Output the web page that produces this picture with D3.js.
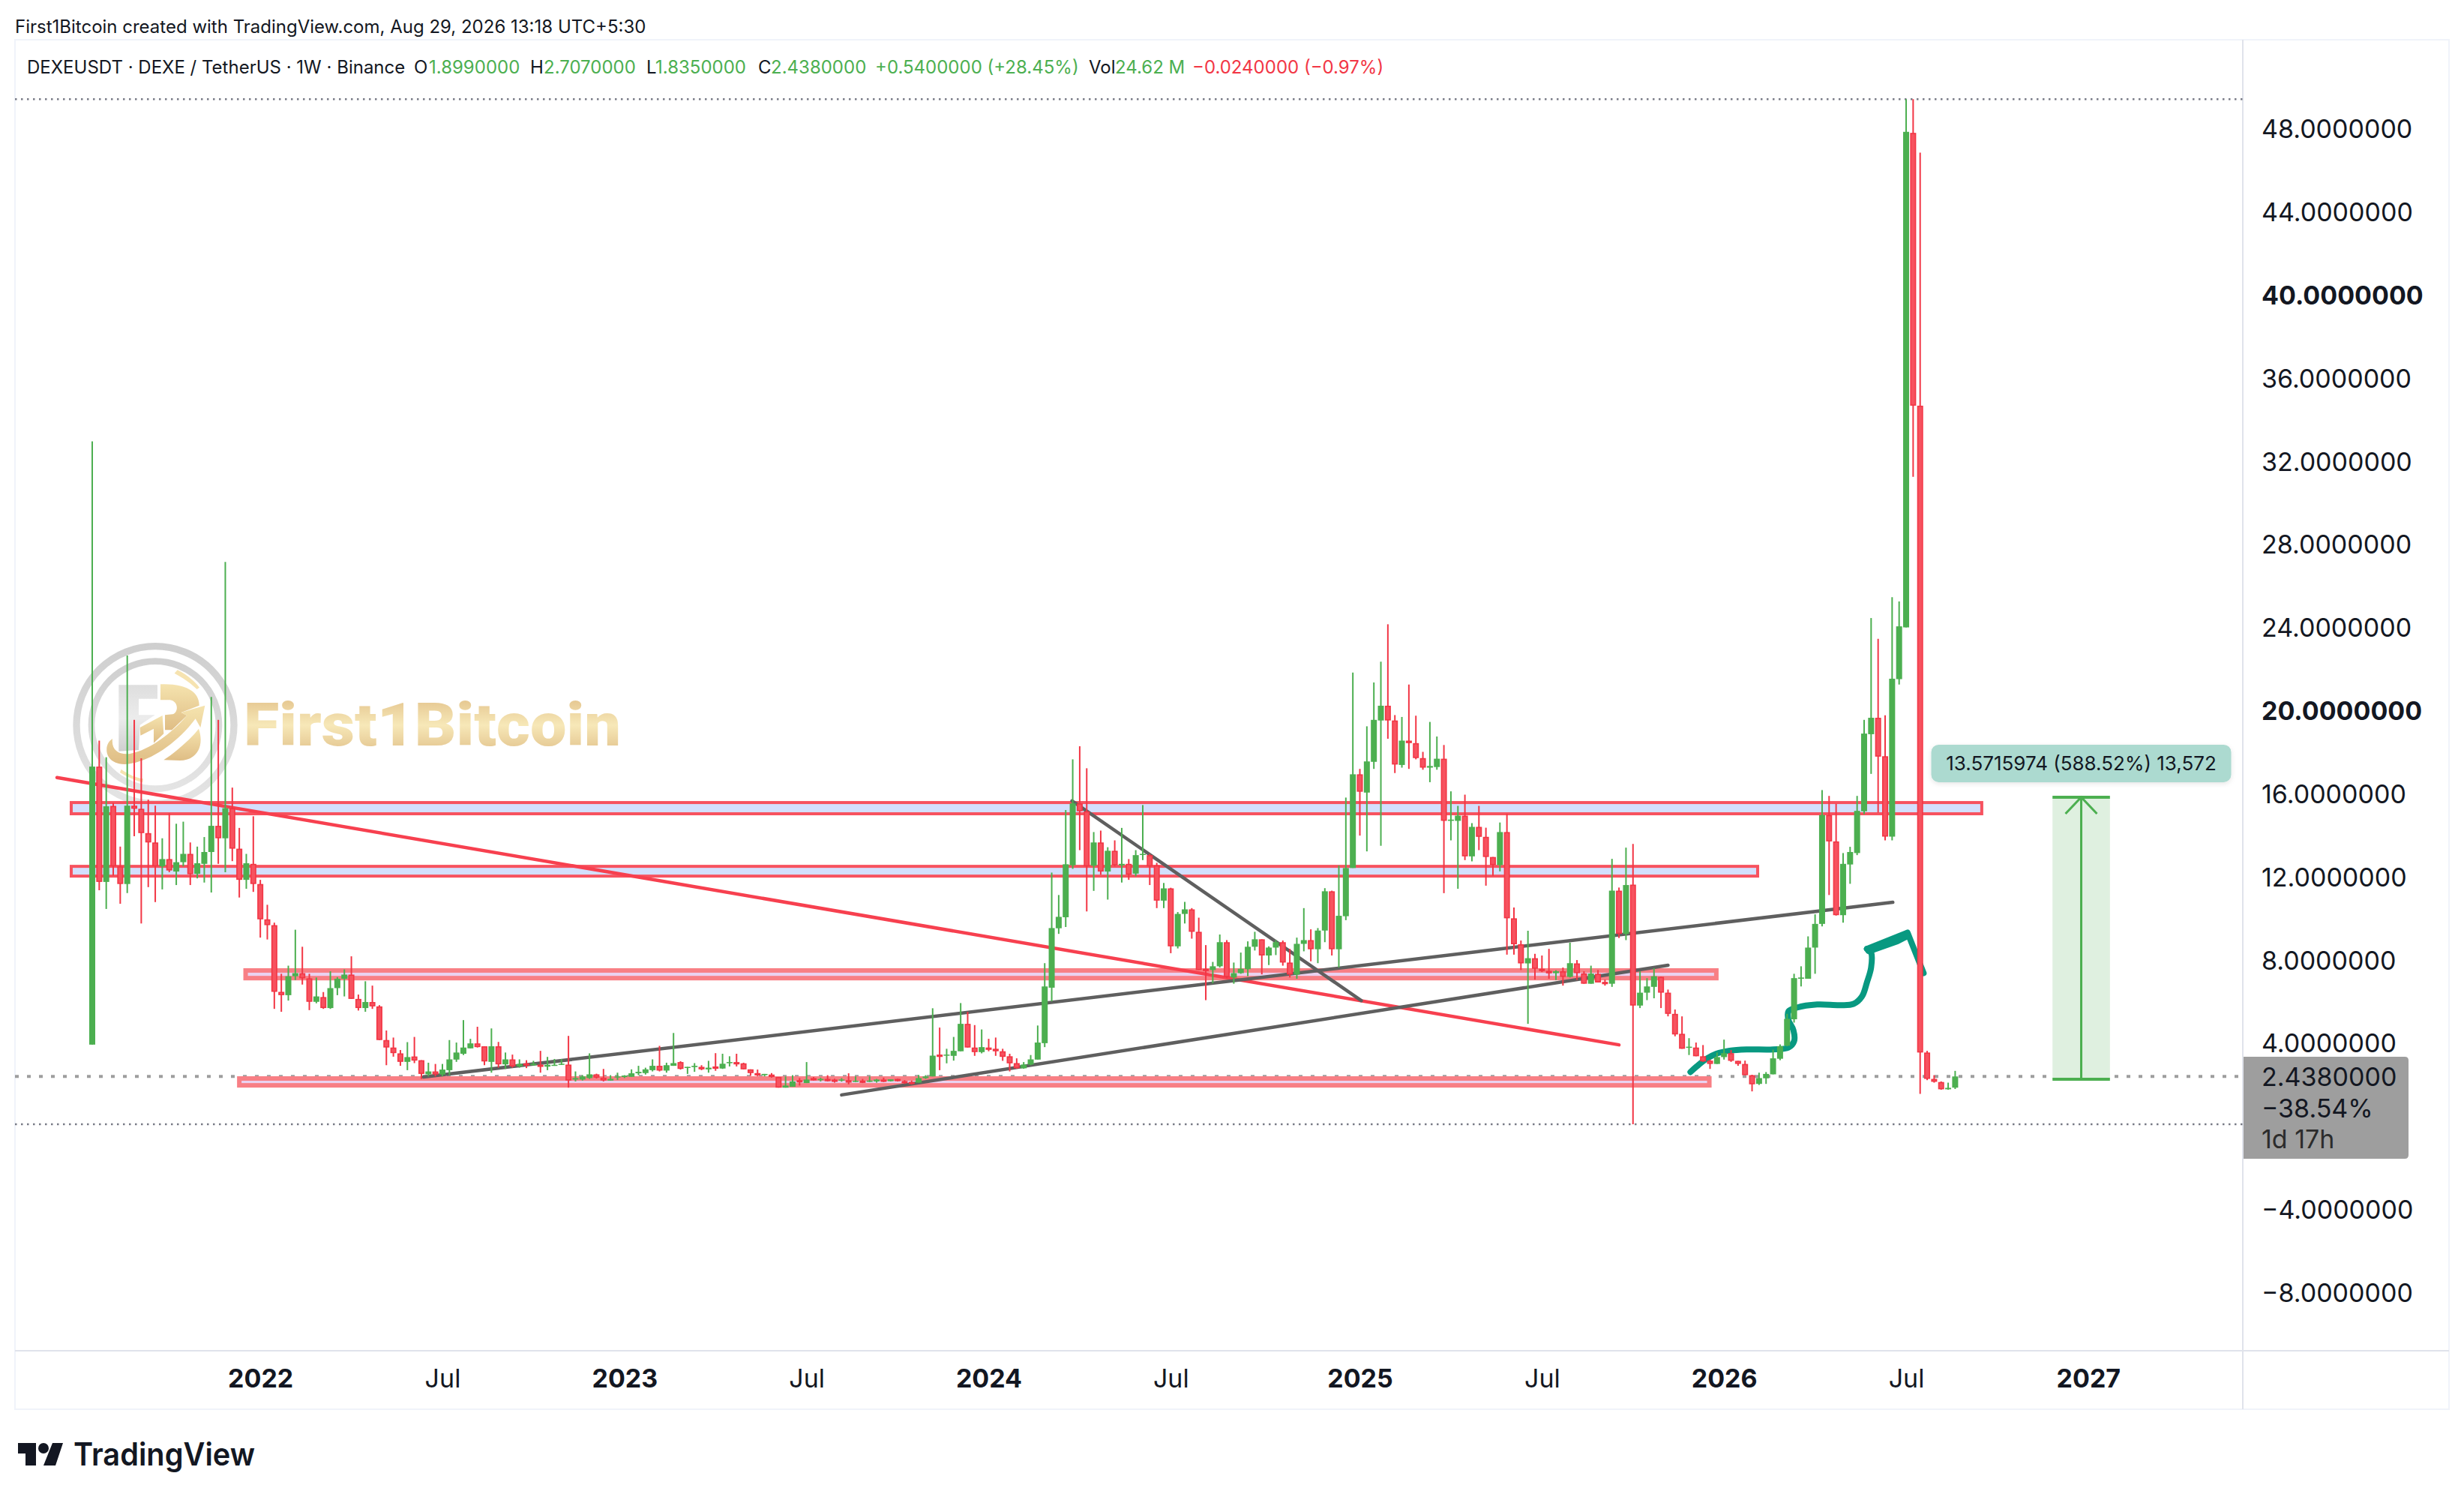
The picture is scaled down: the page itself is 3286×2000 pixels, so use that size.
<!DOCTYPE html>
<html>
<head>
<meta charset="utf-8">
<script src="https://cdn.jsdelivr.net/npm/d3@7"></script>
<style>
    html, body {margin: 0; padding: 0; background: #fff;}
    text {font-family: Inter, "Noto Sans", sans-serif;}
</style>
</head>
<body>
<div id="chart"></div>
<script>
// weekly candles (10 bars per row)
const opens = [
3.97,17.35,11.8,15.46,12.55,11.7,15.47,15.32,14.15,13.7,
12.55,12.9,12.3,12.75,13.15,12.19,12.67,13.24,14.5,13.9,
15.35,13.4,11.9,12.67,11.7,10.0,9.72,6.51,6.35,7.26,
7.41,7.16,6.03,6.26,5.73,6.69,7.14,7.34,6.17,5.73,
6.02,5.81,4.19,3.83,3.55,3.14,3.4,3.22,2.54,2.68,
2.53,2.74,3.25,3.53,3.79,4.03,3.89,3.14,3.89,3.02,
3.26,2.92,3.07,2.98,3.01,2.91,2.97,3.0,3.01,2.29,
2.29,2.36,2.54,2.38,2.24,2.4,2.41,2.42,2.59,2.6,
2.74,2.95,2.72,2.95,3.13,2.86,2.89,2.9,2.78,2.92,
2.82,3.08,3.13,3.07,2.78,2.6,2.5,2.53,2.41,1.9,
1.94,2.26,2.12,2.36,2.26,2.32,2.29,2.24,2.26,2.18,
2.24,2.18,2.2,2.29,2.21,2.32,2.22,2.18,2.14,2.36,
2.44,3.49,3.44,3.43,3.65,4.97,3.83,3.61,3.83,3.77,
3.65,3.41,3.08,2.83,3.01,3.25,4.04,6.71,9.57,10.1,
12.6,15.58,15.2,12.58,13.7,12.3,13.3,12.6,12.67,12.2,
13.1,13.09,12.6,10.9,11.49,8.7,10.26,10.48,9.4,7.62,
7.56,7.74,8.9,7.2,7.41,7.6,8.68,9.04,8.26,8.64,
8.9,7.92,7.34,8.82,9.0,8.56,9.46,11.35,8.56,10.15,
12.47,16.98,16.1,17.58,19.57,20.28,19.57,17.43,18.6,18.48,
17.76,17.3,17.33,17.73,14.74,14.74,14.99,13.03,14.45,13.97,
13.0,12.61,14.2,10.05,8.8,7.88,8.13,7.62,7.52,7.41,
7.5,7.23,7.88,7.4,6.9,7.38,6.99,6.9,11.38,9.3,
11.67,5.85,6.47,6.75,7.23,6.47,5.45,4.49,3.83,3.83,
3.41,3.2,3.04,3.37,3.56,3.19,3.04,2.5,2.08,2.35,
2.54,3.29,3.92,5.19,7.14,7.14,8.64,9.78,15.02,13.75,
10.2,12.64,13.19,15.2,18.91,19.7,17.85,13.98,21.56,24.05,
47.85,34.72,3.59,2.32,2.17,1.82,1.899];
const highs = [
33.0,18.6,17.8,15.6,13.5,22.7,19.6,17.75,15.76,15.47,
13.9,15.1,14.6,14.7,13.7,13.5,13.96,20.7,19.6,27.2,
16.34,14.4,13.15,14.96,11.9,10.7,9.84,7.38,7.77,9.5,
8.68,7.38,7.2,6.5,7.5,7.22,7.59,8.22,6.38,7.02,
6.81,5.87,4.65,4.31,3.71,4.09,4.34,3.22,3.1,3.04,
3.04,4.19,4.07,5.15,4.25,4.83,3.89,4.75,4.1,3.59,
3.49,3.26,3.22,3.19,3.67,3.38,3.28,3.28,4.39,2.68,
2.5,3.55,2.57,2.8,2.5,2.62,2.5,2.78,2.95,2.86,
3.26,3.91,3.1,4.53,3.17,2.9,3.08,2.98,3.19,3.56,
3.53,3.41,3.53,3.1,2.78,2.77,2.56,2.6,2.41,2.44,
2.5,2.36,3.13,2.41,2.38,2.5,2.33,2.36,2.59,2.44,
2.32,2.44,2.32,2.38,2.3,2.33,2.26,2.24,2.51,2.5,
5.72,4.79,3.77,4.34,5.97,5.55,4.91,4.7,4.25,4.31,
3.77,3.53,3.31,3.13,3.47,4.89,7.89,12.25,11.17,15.26,
17.7,18.33,17.27,14.2,14.27,13.47,13.8,14.4,12.9,13.33,
15.5,13.15,12.72,11.75,11.52,10.35,10.84,10.54,10.08,8.76,
7.95,9.27,9.0,7.92,8.4,8.94,9.4,9.04,8.7,9.0,
8.98,8.58,9.12,10.54,9.52,9.58,11.5,11.38,12.59,15.86,
21.88,17.24,19.29,21.4,22.4,24.2,19.83,19.74,21.3,19.8,
18.06,19.5,18.8,18.39,16.16,15.46,16.0,14.63,15.46,14.41,
13.0,14.66,15.08,10.57,8.98,9.45,8.34,8.26,8.58,7.55,
7.68,8.88,8.04,7.5,7.77,7.56,7.1,12.91,11.53,13.45,
13.63,7.5,7.17,7.65,7.23,6.62,5.66,5.33,4.28,4.07,
3.95,3.25,3.59,4.21,3.71,3.19,3.2,2.52,2.62,2.65,
3.73,3.98,5.45,7.38,7.74,9.18,10.24,16.22,15.94,15.56,
13.19,13.49,15.94,19.6,24.5,23.5,19.82,25.5,25.3,49.47,
49.47,46.9,3.67,2.5,2.2,2.14,2.707];
const lows = [
3.97,11.4,10.5,12.1,10.75,11.26,14.0,9.8,11.55,10.83,
11.44,12.27,11.65,12.55,11.65,11.97,11.77,11.29,12.67,12.27,
12.8,11.05,11.47,11.32,9.12,9.03,5.69,5.55,6.09,7.08,
6.86,5.63,5.96,5.69,5.69,6.35,6.29,6.17,5.61,5.55,
5.69,4.19,2.98,3.39,2.95,2.74,3.08,2.32,2.44,2.44,
2.44,2.5,3.14,3.47,3.79,3.83,2.98,2.62,2.86,2.8,
2.86,2.86,2.84,2.95,2.62,2.74,2.95,2.99,1.9,2.2,
2.24,2.32,2.34,2.2,2.24,2.27,2.36,2.42,2.5,2.53,
2.68,2.68,2.62,2.95,2.77,2.56,2.66,2.74,2.62,2.71,
2.8,2.92,2.92,2.78,2.47,2.45,2.44,2.38,1.9,1.9,
1.94,2.0,2.12,2.24,2.2,2.2,2.14,2.19,2.06,2.17,
2.12,2.17,2.14,2.17,2.2,2.2,2.08,2.05,2.14,2.32,
2.44,2.74,3.07,3.2,3.65,3.83,3.43,3.55,3.65,3.43,
3.19,2.68,2.81,2.81,2.98,3.25,3.85,6.05,9.3,9.63,
12.43,13.33,10.38,11.37,12.15,10.95,12.55,11.77,11.9,12.07,
12.85,11.65,10.54,10.54,8.37,8.6,9.8,9.07,7.56,6.11,
6.92,7.68,7.17,6.9,7.38,7.26,8.5,7.35,7.8,8.28,
7.77,7.2,7.14,8.46,7.98,7.89,8.9,8.26,7.68,9.96,
12.47,14.03,13.27,17.24,13.54,18.69,17.04,17.3,17.24,17.7,
17.2,16.6,17.2,11.26,13.8,11.47,12.85,12.79,13.33,11.62,
12.09,12.31,8.3,8.3,7.56,4.97,7.1,7.46,7.14,7.08,
6.81,7.2,7.08,6.9,6.9,6.96,6.81,6.75,9.1,9.0,
0.14,5.73,6.11,6.2,5.73,5.33,4.37,3.77,3.47,3.41,
3.14,2.8,3.04,3.25,3.14,2.95,2.5,1.72,2.03,2.08,
2.54,3.22,3.89,5.03,6.77,7.14,7.38,9.66,11.17,10.18,
9.84,11.71,13.09,15.06,17.0,15.14,13.8,13.8,21.3,24.05,
31.3,1.6,2.26,2.14,1.8,1.8,1.835];
const closes = [
17.35,11.8,15.44,12.55,11.7,15.47,15.32,14.15,13.7,12.55,
12.9,12.35,12.75,13.15,12.17,12.7,13.24,14.5,13.9,15.35,
13.4,11.9,12.7,11.7,10.0,9.72,6.51,6.35,7.26,7.41,
7.16,6.03,6.29,5.73,6.69,7.14,7.34,6.17,5.73,6.02,
5.81,4.19,3.83,3.56,3.14,3.37,3.2,2.56,2.68,2.53,
2.77,3.26,3.59,3.83,4.03,3.85,3.16,3.89,3.02,3.26,
2.92,3.04,2.98,3.05,2.91,3.0,3.0,3.05,2.24,2.36,
2.44,2.54,2.38,2.24,2.32,2.44,2.48,2.59,2.66,2.78,
2.95,2.72,2.98,3.08,2.8,2.9,2.95,2.78,2.86,2.86,
3.05,3.13,3.07,2.78,2.6,2.5,2.56,2.41,1.9,2.0,
2.2,2.2,2.29,2.29,2.32,2.26,2.24,2.29,2.14,2.23,
2.17,2.24,2.29,2.2,2.3,2.26,2.12,2.08,2.36,2.44,
3.44,3.44,3.49,3.67,4.97,3.83,3.61,3.85,3.74,3.65,
3.38,3.07,2.83,3.01,3.26,4.07,6.77,9.58,10.12,12.65,
15.58,15.2,12.55,13.7,12.3,13.3,12.6,12.67,12.15,13.09,
13.15,12.55,10.9,11.49,8.7,10.26,10.48,9.4,7.56,7.56,
7.74,8.9,7.22,7.41,7.62,8.68,9.04,8.26,8.64,8.9,
7.92,7.34,8.82,9.0,8.56,9.46,11.35,8.56,10.17,12.47,
16.98,16.14,17.6,19.6,20.28,19.57,17.45,18.6,18.48,17.76,
17.3,17.38,17.73,14.74,14.8,14.99,13.03,14.45,13.97,13.0,
12.61,14.2,10.05,8.8,7.88,8.13,7.62,7.58,7.4,7.5,
7.23,7.89,7.41,6.9,7.39,6.96,6.9,11.38,9.3,11.65,
5.85,6.47,6.77,7.26,6.47,5.45,4.46,3.77,3.87,3.41,
3.16,3.04,3.37,3.56,3.19,3.04,2.5,2.06,2.36,2.56,
3.31,3.89,5.21,7.17,7.2,8.64,9.78,15.02,13.75,10.2,
12.67,13.24,15.22,18.94,19.7,17.83,13.98,21.58,24.1,47.9,
34.72,3.59,2.32,2.18,1.82,1.89,2.438];

// axis labels
const priceTicks = [48,44,40,36,32,28,24,20,16,12,8,4,-4,-8];
const boldPrices = [40,20];
const timeTicks = [24,50,76,102,128,154,181,207,233,259,285];
const timeLabels = ["2022","Jul","2023","Jul","2024","Jul","2025","Jul","2026","Jul","2027"];

// drawn zones [from bar, to bar, top price, bottom price]
const blueZones = [[-3,269.8,15.62,15.08],[-3,237.8,12.55,12.08]];
const pinkZones = [[21.9,231.9,7.54,7.17],[21,230.9,2.34,2.01]];

// drawn trend lines [bar, price, bar, price]
const redLines = [[-5.03,16.82,218,3.96]];
const greyLines = [[47.3,2.41,257.1,10.82],[107,1.55,225,7.79],[139.9,15.7,181.2,6.09]];

// hand drawn brush path
const brushBars = [228.2,229.1,230.5,231.9,233.8,236.2,240.0,242.2,243.0,242.9,242.2,242.2,243.4,246.3,249.6,251.5,252.7,253.4,254.0,254.0,253.4];
const brushPrices = [2.65,2.92,3.29,3.53,3.68,3.74,3.74,3.83,4.13,4.67,5.15,5.57,5.75,5.9,5.87,5.93,6.29,6.96,7.68,8.4,8.58];
const brushTopBars = [253.4,259.2,261.5];
const brushTopPrices = [8.58,9.36,7.41];
const brushFillBars = [253.7,257.7,259.0];
const brushFillPrices = [8.5,8.98,9.2];

// measure tool
const measureBars = [279.9,288.1];
const measurePrices = [2.306,15.8776];
const measureText = "13.5715974 (588.52%) 13,572";

const lastClose = 2.438;
const highLine = 49.47;
const lowLine = 0.14;

const green = "#4caf50", red = "#f23645", redBody = "#f7525f";

let width = 3286, height = 2000;
let paneRight = 2991, frameLeft = 20, frameRight = 3266, frameTop = 53, frameBottom = 1879, timeTop = 1801;

let svg = d3.select("#chart").append("svg")
    .attr("width", width)
    .attr("height", height)
    .style("display", "block");

let x = d3.scaleLinear().domain([0, 266]).range([123, 2607.4]);
let y = d3.scaleLinear().domain([4, 48]).range([1392, 173]);

let bars = d3.range(opens.length).map(i => ({i: i, o: opens[i], h: highs[i], l: lows[i], c: closes[i]}));

// frame
svg.append("rect").attr("x", frameLeft).attr("y", frameTop)
    .attr("width", frameRight - frameLeft).attr("height", frameBottom - frameTop)
    .attr("fill", "#fff").attr("stroke", "#f0f3fa").attr("stroke-width", 2);
svg.append("line").attr("x1", paneRight).attr("x2", paneRight).attr("y1", frameTop).attr("y2", frameBottom)
    .attr("stroke", "#e0e3eb").attr("stroke-width", 2);
svg.append("line").attr("x1", frameLeft).attr("x2", frameRight).attr("y1", timeTop).attr("y2", timeTop)
    .attr("stroke", "#e0e3eb").attr("stroke-width", 2);

// header texts
svg.append("text").attr("x", 20).attr("y", 44).attr("font-size", 24).attr("fill", "#131722")
    .text("First1Bitcoin created with TradingView.com, Aug 29, 2026 13:18 UTC+5:30");

let legend = [
    ["DEXEUSDT · DEXE / TetherUS · 1W · Binance", 36, "#131722"],
    ["O", 552, "#131722"], ["1.8990000", 572, green],
    ["H", 707, "#131722"], ["2.7070000", 725, green],
    ["L", 862, "#131722"], ["1.8350000", 874, green],
    ["C", 1011, "#131722"], ["2.4380000", 1028, green],
    ["+0.5400000 (+28.45%)", 1167, green],
    ["Vol", 1452, "#131722"], ["24.62 M", 1487, green],
    ["−0.0240000 (−0.97%)", 1590, red]
];
svg.append("g").selectAll("text").data(legend).enter().append("text")
    .attr("x", d => d[1]).attr("y", 98).attr("font-size", 24)
    .attr("fill", d => d[2]).text(d => d[0]);

// watermark logo, sits under everything
let defs = svg.append("defs");
function vGrad(id, stops){
    let g = defs.append("linearGradient").attr("id", id)
        .attr("x1", 0).attr("y1", 0).attr("x2", 0).attr("y2", 1);
    stops.forEach((s, i) => g.append("stop").attr("offset", i / (stops.length - 1)).attr("stop-color", s));
}
vGrad("gold", ["#dfbb82", "#f7e8b8", "#dcb880"]);
vGrad("goldB", ["#f5e3ae", "#dfbd85"]);
vGrad("greyF", ["#dedede", "#ececec", "#cfcfcf"]);
vGrad("ring", ["#cfcfcf", "#e4e4e4"]);

let logo = svg.append("g").attr("transform", "translate(90,850) scale(0.3333)");
logo.append("circle").attr("cx", 351).attr("cy", 350).attr("r", 315).attr("fill", "none").attr("stroke", "url(#ring)").attr("stroke-width", 28);
logo.append("circle").attr("cx", 351).attr("cy", 350).attr("r", 255).attr("fill", "none").attr("stroke", "url(#ring)").attr("stroke-width", 26);
logo.append("path").attr("fill", "url(#greyF)")
    .attr("d", "M205,190 H360 V245 H285 V310 H350 L290,350 L285,450 L205,455 Z");
logo.append("path").attr("fill", "url(#goldB)")
    .attr("d", "M290,360 L380,312 L385,385 L345,422 L345,365 L292,392 Z");
logo.append("path").attr("fill", "url(#goldB)")
    .attr("d", "M372,187 C460,183 528,210 527,272 L455,300 L478,312 L418,370 L390,370 L390,310 L420,307 C445,300 445,255 410,250 L372,250 Z");
logo.append("path").attr("fill", "url(#goldB)")
    .attr("d", "M157,455 C155,430 165,415 180,405 C175,450 205,470 250,465 C330,450 420,380 478,312 L455,300 L550,272 L532,360 L512,325 C440,420 340,490 250,505 C200,515 160,490 157,455 Z");
logo.append("path").attr("fill", "url(#goldB)")
    .attr("d", "M525,365 C545,420 530,490 450,492 L385,490 C430,460 490,410 525,365 Z");
logo.append("path").attr("fill", "#f6e3b0")
    .attr("d", "M428,143 L440,130 C470,145 505,170 528,200 L518,207 C490,180 460,160 428,143 Z");
logo.append("path").attr("fill", "#f6e3b0")
    .attr("d", "M210,540 L215,527 C240,545 270,560 303,565 L300,580 C265,570 235,555 210,540 Z");
svg.append("text").attr("x", 325).attr("y", 994).attr("font-size", 80).attr("font-weight", 900)
    .attr("textLength", 503).attr("lengthAdjust", "spacingAndGlyphs")
    .attr("fill", "url(#gold)").style("font-family", "Roboto, sans-serif")
    .text("First1Bitcoin");

// price lines
function priceLine(v, dash, w, col){
    svg.append("line").attr("x1", frameLeft).attr("x2", paneRight)
        .attr("y1", y(v)).attr("y2", y(v))
        .attr("stroke", col).attr("stroke-width", w).attr("stroke-dasharray", dash);
}
priceLine(highLine, "2.5 5.5", 2.5, "#787b86");
priceLine(lowLine, "2.5 5.5", 2.5, "#787b86");
priceLine(lastClose, "5 11", 4, "#9e9e9e");

// zones
function drawZones(data, fill, stroke, w){
    svg.append("g").selectAll("rect").data(data).enter().append("rect")
        .attr("x", d => x(d[0]))
        .attr("width", d => x(d[1]) - x(d[0]))
        .attr("y", d => y(d[2]))
        .attr("height", d => y(d[3]) - y(d[2]))
        .attr("fill", fill).attr("stroke", stroke).attr("stroke-width", w);
}
drawZones(blueZones, "#d3dffd", "#f7525f", 4);
drawZones(pinkZones, "#ead2f0", "#f87f85", 6);

// trend lines
function drawLines(data, col, w){
    svg.append("g").selectAll("line").data(data).enter().append("line")
        .attr("x1", d => x(d[0])).attr("y1", d => y(d[1]))
        .attr("x2", d => x(d[2])).attr("y2", d => y(d[3]))
        .attr("stroke", col).attr("stroke-width", w).attr("stroke-linecap", "round");
}
drawLines(redLines, "#f7404f", 4.5);
drawLines(greyLines, "#5f5f5f", 4.5);

// brush
let brushLine = d3.line().x(d => x(d[0])).y(d => y(d[1]));
let zipped = (a, b) => a.map((v, i) => [v, b[i]]);
svg.append("path")
    .attr("d", brushLine.curve(d3.curveCatmullRom)(zipped(brushBars, brushPrices)))
    .attr("fill", "none").attr("stroke", "#089981").attr("stroke-width", 8).attr("stroke-linecap", "round").attr("stroke-linejoin", "round");
brushLine.curve(d3.curveLinear);
svg.append("path").attr("d", brushLine(zipped(brushTopBars, brushTopPrices)))
    .attr("fill", "none").attr("stroke", "#089981").attr("stroke-width", 8).attr("stroke-linecap", "round").attr("stroke-linejoin", "round");
svg.append("path").attr("d", brushLine(zipped(brushFillBars, brushFillPrices)))
    .attr("fill", "none").attr("stroke", "#089981").attr("stroke-width", 10).attr("stroke-linecap", "round");

// measure tool
let mx0 = x(measureBars[0]), mx1 = x(measureBars[1]), mxc = (mx0 + mx1) / 2;
let my0 = y(measurePrices[0]), my1 = y(measurePrices[1]);
svg.append("rect").attr("x", mx0).attr("y", my1).attr("width", mx1 - mx0).attr("height", my0 - my1).attr("fill", "#dff0e0");
let mg = svg.append("g").attr("stroke", green).attr("stroke-width", 3).attr("fill", "none");
mg.append("line").attr("x1", mx0).attr("x2", mx1).attr("y1", my0).attr("y2", my0).attr("stroke-width", 4);
mg.append("line").attr("x1", mx0).attr("x2", mx1).attr("y1", my1).attr("y2", my1).attr("stroke-width", 4);
mg.append("line").attr("x1", mxc).attr("x2", mxc).attr("y1", my0).attr("y2", my1);
mg.append("path").attr("d", d3.line()([[mxc - 21, my1 + 22], [mxc, my1], [mxc + 21, my1 + 22]]));

defs.append("filter").attr("id", "soft").attr("x", "-5%").attr("y", "-20%").attr("width", "110%").attr("height", "150%")
    .append("feDropShadow").attr("dx", 0).attr("dy", 2).attr("stdDeviation", 3).attr("flood-color", "#000").attr("flood-opacity", 0.1);
svg.append("rect").attr("x", mxc - 200).attr("y", my1 - 70).attr("width", 400).attr("height", 50).attr("rx", 10)
    .attr("fill", "#acdad0").attr("filter", "url(#soft)");
svg.append("text").attr("x", mxc).attr("y", my1 - 36).attr("text-anchor", "middle").attr("font-size", 26).attr("fill", "#131722")
    .text(measureText);

// candles go on top of the drawings
let candles = svg.append("g").selectAll("g").data(bars).enter().append("g");
candles.append("line")
    .attr("x1", d => x(d.i)).attr("x2", d => x(d.i))
    .attr("y1", d => y(d.h)).attr("y2", d => y(d.l))
    .attr("stroke", d => d.c >= d.o ? green : red).attr("stroke-width", 2);
candles.append("rect")
    .attr("x", d => x(d.i) - (d.c >= d.o ? 4 : 3.2))
    .attr("width", d => d.c >= d.o ? 8 : 6.4)
    .attr("y", d => y(Math.max(d.o, d.c)) + (d.c >= d.o ? 0 : 0.8))
    .attr("height", d => Math.max(1.5, Math.abs(y(d.o) - y(d.c)) - (d.c >= d.o ? 0 : 1.6)))
    .attr("fill", d => d.c >= d.o ? green : redBody)
    .attr("stroke", d => d.c >= d.o ? "none" : red)
    .attr("stroke-width", 1.6);

// axes
let priceAxis = d3.axisRight(y).tickValues(priceTicks).tickSize(0).tickPadding(25).tickFormat(d3.format(".7f"));
let pa = svg.append("g").attr("transform", "translate(" + paneRight + ",0)").call(priceAxis);
pa.select(".domain").remove();
pa.selectAll("text").style("font-family", "Inter").style("font-size", "34px").attr("fill", "#131722")
    .style("font-weight", d => boldPrices.includes(d) ? 700 : 400);

let timeAxis = d3.axisBottom(x).tickValues(timeTicks).tickSize(0).tickPadding(0)
    .tickFormat(d => timeLabels[timeTicks.indexOf(d)]);
let ta = svg.append("g").attr("transform", "translate(0,1838)").call(timeAxis);
ta.select(".domain").remove();
ta.selectAll("text").attr("dy", "0.36em").attr("y", 0).style("font-family", "Inter").style("font-size", "34px").attr("fill", "#131722")
    .style("font-weight", (d, i) => timeLabels[i] === "Jul" ? 400 : 700);

// last price label
svg.append("path").attr("fill", "#9e9e9e")
    .attr("d", "M2992,1409 H3207 Q3212,1409 3212,1414 V1540 Q3212,1545 3207,1545 H2992 Z");
let lastLabel = [[d3.format(".7f")(lastClose), 1436, "#131722"], ["−38.54%", 1478, "#131722"], ["1d 17h", 1519, "#2c2c2c"]];
svg.append("g").selectAll("text").data(lastLabel).enter().append("text")
    .attr("x", 3016).attr("y", d => d[1]).attr("dy", "0.36em").attr("font-size", 34).attr("fill", d => d[2]).text(d => d[0]);

// TradingView mark
let tv = svg.append("g").attr("fill", "#131722");
tv.append("path").attr("d", "M24,1924 H48 V1954 H34 V1938 H24 Z");
tv.append("circle").attr("cx", 58).attr("cy", 1931).attr("r", 7);
tv.append("path").attr("d", "M70,1924 H84 L74,1954 H58 Z");
svg.append("text").attr("x", 98).attr("y", 1954).attr("font-size", 42).attr("font-weight", 600)
    .attr("textLength", 242).attr("lengthAdjust", "spacingAndGlyphs").attr("fill", "#131722").text("TradingView");
</script>
</body>
</html>
